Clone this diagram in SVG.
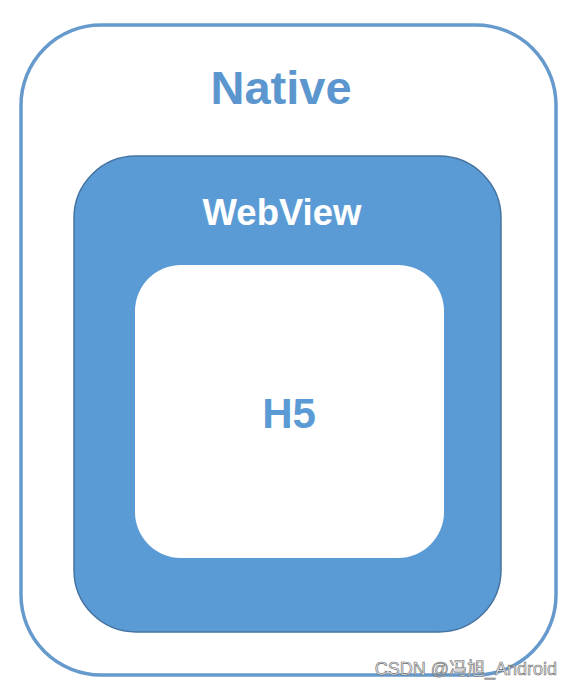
<svg xmlns="http://www.w3.org/2000/svg" width="572" height="688" viewBox="0 0 572 688">
<style>
.lbl{font-family:"Liberation Sans",Arial,sans-serif;font-weight:bold;text-anchor:middle}
</style>
<rect width="572" height="688" fill="#ffffff"/>
<g id="native">
<rect x="21" y="25" width="535" height="650" rx="80" ry="80" fill="#ffffff" stroke="#6699cc" stroke-width="3.5"/>
<text class="lbl" x="281" y="104" font-size="47" fill="#5b96cf">Native</text>
</g>
<g id="webview">
<rect x="74" y="156" width="427" height="476" rx="62" ry="62" fill="#5b9bd5" stroke="#45739f" stroke-width="1.5"/>
<text class="lbl" x="282" y="225" font-size="36.5" fill="#ffffff">WebView</text>
</g>
<g id="h5">
<rect x="135" y="265" width="309" height="293" rx="46" ry="46" fill="#ffffff"/>
<text class="lbl" x="289" y="428" font-size="42" fill="#5b9bd5">H5</text>
</g>
<g id="connectors"/>
<text x="557" y="675" font-family="'Liberation Sans','Noto Sans CJK SC',sans-serif" font-size="18" text-anchor="end" fill="#eeeeee" stroke="#6a6a6a" stroke-width="0.6">CSDN @冯旭_Android</text>
</svg>
